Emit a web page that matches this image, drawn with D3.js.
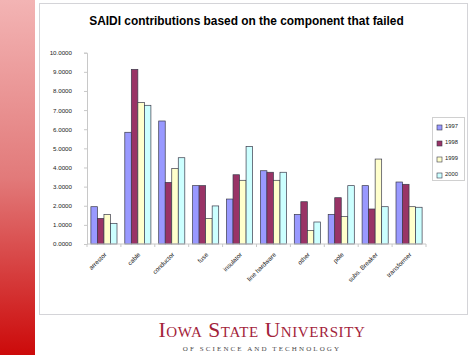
<!DOCTYPE html>
<html><head><meta charset="utf-8">
<script src="https://cdn.jsdelivr.net/npm/d3@7"></script>
<style>
html,body{margin:0;padding:0;background:#fff;}
svg{display:block;}
</style></head>
<body>
<svg id="c" width="474" height="355"></svg>
<script>
const categories = ["arrestor","cable","conductor","fuse","insulator","line hardware","other","pole","subs. Breaker","transformer"];
const years = ["1997","1998","1999","2000"];
const v1997 = [1.95, 5.84, 6.43, 3.05, 2.35, 3.83, 1.55, 1.55, 3.05, 3.24];
const v1998 = [1.34, 9.13, 3.22, 3.05, 3.62, 3.75, 2.21, 2.42, 1.83, 3.12];
const v1999 = [1.55, 7.40, 3.95, 1.34, 3.33, 3.33, 0.71, 1.43, 4.44, 1.95];
const v2000 = [1.08, 7.25, 4.51, 1.99, 5.10, 3.75, 1.15, 3.05, 1.95, 1.92];
const yTicks = [0,1,2,3,4,5,6,7,8,9,10];
const colors = ["#9999ff","#993366","#ffffcc","#ccffff"];
const series = [v1997, v1998, v1999, v2000];

const svg = d3.select("#c");
// left gradient strip
const defs = svg.append("defs");
const g = defs.append("linearGradient").attr("id","strip").attr("x1",0).attr("y1",0).attr("x2",0).attr("y2",1);
g.append("stop").attr("offset","0%").attr("stop-color","#f3b4b4");
g.append("stop").attr("offset","50%").attr("stop-color","#e27a7a");
g.append("stop").attr("offset","100%").attr("stop-color","#cc0a0a");
svg.append("rect").attr("x",0).attr("y",0).attr("width",35).attr("height",355).attr("fill","url(#strip)");

// frame
svg.append("rect").attr("x",39.5).attr("y",3.5).attr("width",428).attr("height",311)
  .attr("fill","#fff").attr("stroke","#d4d4d8").attr("stroke-width",1);

// title
svg.append("text").attr("x",246.5).attr("y",25).attr("text-anchor","middle")
  .attr("font-family","Liberation Sans, Arial, sans-serif").attr("font-weight","bold")
  .attr("font-size",11.9).attr("fill","#000")
  .text("SAIDI contributions based on the component that failed");

const x0 = d3.scaleBand().domain(categories).range([87,426]).paddingInner(0.23).paddingOuter(0.115);
const x1 = d3.scaleBand().domain(years).range([0,x0.bandwidth()]);
const y = d3.scaleLinear().domain([0,10]).range([244,52.7]);

// y axis
const ya = svg.append("g").attr("transform","translate(87,0)")
  .call(d3.axisLeft(y).tickValues(yTicks).tickFormat(d3.format(".4f")).tickSize(3).tickPadding(12));
ya.select(".domain").attr("stroke","#c8c8c8");
ya.selectAll(".tick line").attr("stroke","#c8c8c8");
ya.selectAll("text").attr("font-family","Liberation Sans, Arial, sans-serif").attr("font-size",6.2).attr("fill","#222");

// bars
categories.forEach((c,i)=>{
  series.forEach((s,j)=>{
    svg.append("rect")
      .attr("x", x0(c)+x1(years[j]))
      .attr("y", y(s[i]))
      .attr("width", x1.bandwidth())
      .attr("height", y(0)-y(s[i]))
      .attr("fill", colors[j]).attr("stroke","#3a3a4a").attr("stroke-width",0.7);
  });
});

// x axis
const step = x0.step();
const xa = svg.append("g").attr("transform","translate(0,244)");
xa.append("line").attr("x1",87).attr("x2",426).attr("y1",0).attr("y2",0).attr("stroke","#c8c8c8");
for(let k=0;k<=categories.length;k++){
  const xx = 87 + k*step;
  xa.append("line").attr("x1",xx).attr("x2",xx).attr("y1",0).attr("y2",3).attr("stroke","#c8c8c8");
}
categories.forEach(c=>{
  const cx = x0(c)+x0.bandwidth()/2 + 3;
  xa.append("text").attr("transform",`translate(${cx},11) rotate(-45)`)
    .attr("text-anchor","end").attr("font-family","Liberation Sans, Arial, sans-serif")
    .attr("font-size",6.3).attr("fill","#222").text(c);
});

// legend
const lg = svg.append("g");
lg.append("rect").attr("x",432.5).attr("y",117.5).attr("width",32).attr("height",63)
  .attr("fill","#fff").attr("stroke","#d0d0d0");
years.forEach((yr,j)=>{
  const yy = 125 + j*16;
  lg.append("rect").attr("x",437).attr("y",yy).attr("width",5).attr("height",5)
    .attr("fill",colors[j]).attr("stroke","#3a3a4a").attr("stroke-width",0.6);
  lg.append("text").attr("x",445).attr("y",yy+3).attr("font-family","Liberation Sans, Arial, sans-serif")
    .attr("font-size",5.8).attr("fill","#222").text(yr);
});

// logo
svg.append("text").attr("x",262).attr("y",337).attr("text-anchor","middle")
  .attr("font-family","Liberation Serif, Times New Roman, serif").attr("font-size",21.5)
  .attr("font-variant","small-caps").attr("fill","#a3233a").attr("letter-spacing",0.6)
  .text("Iowa State University");
svg.append("text").attr("x",262).attr("y",351).attr("text-anchor","middle")
  .attr("font-family","Liberation Serif, Times New Roman, serif").attr("font-size",7)
  .attr("letter-spacing",2.1).attr("fill","#4a4a4a")
  .text("OF SCIENCE AND TECHNOLOGY");
</script>
</body></html>
